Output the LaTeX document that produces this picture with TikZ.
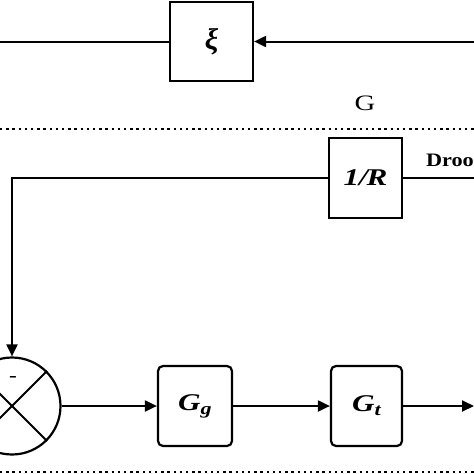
\documentclass[tikz,border=0pt]{standalone}
\usepackage{graphicx}
\usepackage{fontspec}
\setmainfont{Liberation Serif}
\usetikzlibrary{arrows.meta}
\newcommand{\mysub}[1]{\raisebox{-4pt}{\fontsize{17}{19}\selectfont #1}}
\newcommand{\wide}[1]{\scalebox{1.3}[1]{#1}}
\begin{document}
\begin{tikzpicture}[x=1pt,y=-1pt,
  line width=2pt,
  blk/.style={draw, line width=2.2pt, minimum width=#1, minimum height=80pt, inner sep=0pt, font=\fontsize{24}{26}\selectfont\bfseries\itshape},
  rblk/.style={blk=#1, rounded corners=5pt},
  arr/.style={-{Triangle[length=12pt,width=11pt]}},
  dotline/.style={line width=2.4pt, dash pattern=on 2.4pt off 3.8pt}
]
\useasboundingbox (0,0) rectangle (474,474);
% top row
\node[blk=83pt, minimum height=79pt] (xi) at (211.5,41.5) {\fontsize{30}{32}\selectfont ξ};
\coordinate (tl) at (0,41.5);
\coordinate (tr) at (474,41.5);
\draw (tl) -- (xi.west);
\draw[arr] (tr) -- (xi.east);
% G label
\node[font=\fontsize{22}{24}\selectfont] (glab) at (365,103) {\wide{G}};
% dotted lines
\coordinate (d1a) at (0,129);
\coordinate (d1b) at (474,129);
\draw[dotline] (d1a) -- (d1b);
\coordinate (d2a) at (0,472);
\coordinate (d2b) at (474,472);
\draw[dotline] (d2a) -- (d2b);
% droop
\node[blk=73pt] (r) at (365.5,178) {\wide{1/\kern-1pt R}};
\coordinate (dr) at (474,178);
\draw (r.east) -- (dr);
\node[anchor=west, font=\fontsize{19}{21}\selectfont\bfseries, inner sep=0pt] (droop) at (425,162) {\scalebox{1.17}[1]{Droop}};
\coordinate (corner) at (12,178);
% sum
\node[circle, draw, line width=2.2pt, minimum size=97pt, inner sep=0pt] (sum) at (12,406) {};
\draw[line width=2pt] (sum.north east) -- (sum.south west);
\draw[line width=2pt] (sum.north west) -- (sum.south east);
\node[font=\fontsize{18}{20}\selectfont\bfseries, inner sep=0pt] (minus) at (13,379) {\wide{-}};
\draw[arr] (r.west) -- (corner) -- (sum.north);
% forward path
\node[rblk=74pt] (gg) at (195,406) {\wide{G\mysub{g}}};
\node[rblk=71pt] (gt) at (366.5,406) {\wide{G\mysub{t}}};
\coordinate (out) at (474,406);
\draw[arr] (sum.east) -- (gg.west);
\draw[arr] (gg.east) -- (gt.west);
\draw[arr] (gt.east) -- (out);
\end{tikzpicture}
\end{document}
